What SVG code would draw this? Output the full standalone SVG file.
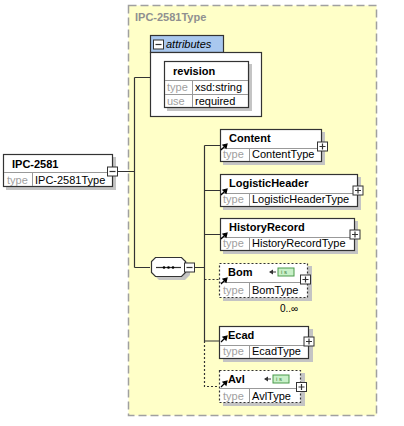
<svg xmlns="http://www.w3.org/2000/svg" width="404" height="426" viewBox="0 0 404 426">
<style>
text{font-family:"Liberation Sans",Arial,sans-serif;font-size:11px;fill:#000}
.nm{font-weight:bold}
.tl{fill:#a0a0a0}
.box{fill:#fff;stroke:#333;stroke-width:1.2}
.dbox{fill:#fff;stroke:#333;stroke-width:1.2;stroke-dasharray:2,2}
.sh{fill:#c4c4c4}
.div{stroke:#999;stroke-width:1;fill:none}
.ln{stroke:#333;stroke-width:1.2;fill:none}
.dl{stroke:#333;stroke-width:1.2;fill:none;stroke-dasharray:2,2}
.btn{fill:#fff;stroke:#333;stroke-width:1}
.bl{stroke:#333;stroke-width:1.2}
.is{fill:#c8f0c8;stroke:#4a9a4a;stroke-width:1}
.ist{font-size:6px;fill:#3a7a3a}
</style>
<defs>
<path id="ar" d="M0,6 L4,2 M2,1 L6,0 L5,4 Z" stroke="#000" stroke-width="1.2" fill="#000"/>
<g id="plus"><rect class="btn" x="0" y="0" width="10" height="9"/><path class="bl" d="M2,4.5H8M5,1.5V7.5"/></g>
<g id="minus"><rect class="btn" x="0" y="0" width="10" height="9"/><path class="bl" d="M2,4.5H8"/></g>
<g id="isic"><path d="M-8,4H-2" stroke="#333" stroke-width="1"/><path d="M-9,4L-5,1.5V6.5Z" fill="#333"/><rect class="is" x="0" y="0" width="16" height="8"/><text class="ist" x="3" y="6.3">i s</text></g>
</defs>

<g id="IPC-2581Type">
<rect x="128.5" y="5.5" width="248" height="410" fill="#ffffc8" stroke="#a0a0a0" stroke-width="1.5" stroke-dasharray="8,4"/>
<text x="135" y="21" class="nm" fill="#909090" style="fill:#909090">IPC-2581Type</text>
</g>

<g id="connectors">
<path class="ln" d="M118,171.5H134.5M134.5,77.5V267.5M134.5,77.5H150M134.5,267.5H150"/>
<path class="ln" d="M194,267.5H204.5M204.5,145.5V341"/>
<path class="ln" d="M204.5,145.5H220M204.5,190.5H220M204.5,234.5H220M204.5,341H219"/>
<path class="dl" d="M204.5,279.5H219M204.5,341V386.5H219"/>
</g>

<g id="attributes">
<rect x="150.5" y="35.5" width="73" height="17" fill="#a9c8ef" stroke="#333" stroke-width="1.2"/>
<rect x="150.5" y="52.5" width="111" height="64" fill="#fff" stroke="#333" stroke-width="1.2"/>
<use href="#minus" x="153.5" y="40"/>
<text x="166" y="48" font-style="italic" style="font-style:italic">attributes</text>
</g>

<g id="revision">
<rect class="sh" x="167" y="64" width="85" height="47"/>
<rect class="box" x="164.5" y="61.5" width="84" height="46"/>
<path class="div" d="M165,80.5H248M165,94.5H248M192.5,81V107"/>
<text x="173" y="75" class="nm">revision</text>
<text x="167" y="91" class="tl">type</text><text x="195" y="91">xsd:string</text>
<text x="167" y="105" class="tl">use</text><text x="195" y="105">required</text>
</g>

<g id="IPC-2581">
<rect class="sh" x="6" y="157" width="110" height="33"/>
<rect class="box" x="3.5" y="154.5" width="109" height="32"/>
<path class="div" d="M4,172.5H112M32.5,173V186"/>
<text x="12" y="168" class="nm">IPC-2581</text>
<text x="7" y="184" class="tl">type</text><text x="35" y="184">IPC-2581Type</text>
<use href="#minus" x="107.5" y="167"/>
</g>

<g id="sequence">
<path class="sh" d="M159,260H185L190,265V275L185,280H159L154,275V265Z"/>
<path d="M155.5,257.5H181.5L185.5,261.5V272.5L181.5,276.5H155.5L151.5,272.5V261.5Z" fill="#fff" stroke="#333" stroke-width="1.2"/>
<path class="bl" d="M156,267.5H181"/>
<circle cx="164" cy="267.5" r="1.3"/><circle cx="168.5" cy="267.5" r="1.3"/><circle cx="173" cy="267.5" r="1.3"/>
<use href="#minus" x="184.5" y="263"/>
</g>

<g id="Content">
<rect class="sh" x="223" y="132" width="102" height="33"/>
<rect class="box" x="220.5" y="129.5" width="101" height="32"/>
<path class="div" d="M221,148.5H321M249.5,149V161"/>
<use href="#ar" x="221" y="144"/>
<text x="229" y="142" class="nm">Content</text>
<text x="223" y="158" class="tl">type</text><text x="252" y="158">ContentType</text>
<use href="#plus" x="317.5" y="142"/>
</g>

<g id="LogisticHeader">
<rect class="sh" x="223" y="177" width="138" height="33"/>
<rect class="box" x="220.5" y="174.5" width="137" height="32"/>
<path class="div" d="M221,193.5H357M249.5,194V206"/>
<use href="#ar" x="221" y="189"/>
<text x="229" y="187" class="nm">LogisticHeader</text>
<text x="223" y="203" class="tl">type</text><text x="252" y="203">LogisticHeaderType</text>
<use href="#plus" x="353" y="186"/>
</g>

<g id="HistoryRecord">
<rect class="sh" x="223" y="221" width="135" height="33"/>
<rect class="box" x="220.5" y="218.5" width="134" height="32"/>
<path class="div" d="M221,237.5H354M249.5,238V250"/>
<use href="#ar" x="221" y="233"/>
<text x="229" y="231" class="nm">HistoryRecord</text>
<text x="223" y="247" class="tl">type</text><text x="252" y="247">HistoryRecordType</text>
<use href="#plus" x="350" y="230"/>
</g>

<g id="Bom">
<rect class="sh" x="223" y="266" width="89" height="35"/>
<rect class="dbox" x="219.5" y="263.5" width="88" height="34"/>
<path class="div" d="M220,282.5H307M249.5,283V297"/>
<use href="#ar" x="221" y="278"/>
<text x="228" y="276" class="nm">Bom</text>
<use href="#isic" x="278" y="268"/>
<text x="223" y="294" class="tl">type</text><text x="252" y="294">BomType</text>
<use href="#plus" x="300.5" y="275"/>
<text x="280" y="312" style="font-size:10px">0..∞</text>
</g>

<g id="Ecad">
<rect class="sh" x="223" y="329" width="90" height="33"/>
<rect class="box" x="219.5" y="326.5" width="89" height="32"/>
<path class="div" d="M220,345.5H308M249.5,346V358"/>
<use href="#ar" x="221" y="336"/>
<text x="228" y="339" class="nm">Ecad</text>
<text x="223" y="355" class="tl">type</text><text x="252" y="355">EcadType</text>
<use href="#plus" x="304" y="337"/>
</g>

<g id="Avl">
<rect class="sh" x="223" y="373" width="82" height="33"/>
<rect class="dbox" x="219.5" y="370.5" width="81" height="32"/>
<path class="div" d="M220,388.5H300M249.5,389V402"/>
<use href="#ar" x="221" y="381"/>
<text x="228" y="383" class="nm">Avl</text>
<use href="#isic" x="273" y="375"/>
<text x="223" y="400" class="tl">type</text><text x="252" y="400">AvlType</text>
<use href="#plus" x="296.5" y="382.5"/>
</g>
</svg>
